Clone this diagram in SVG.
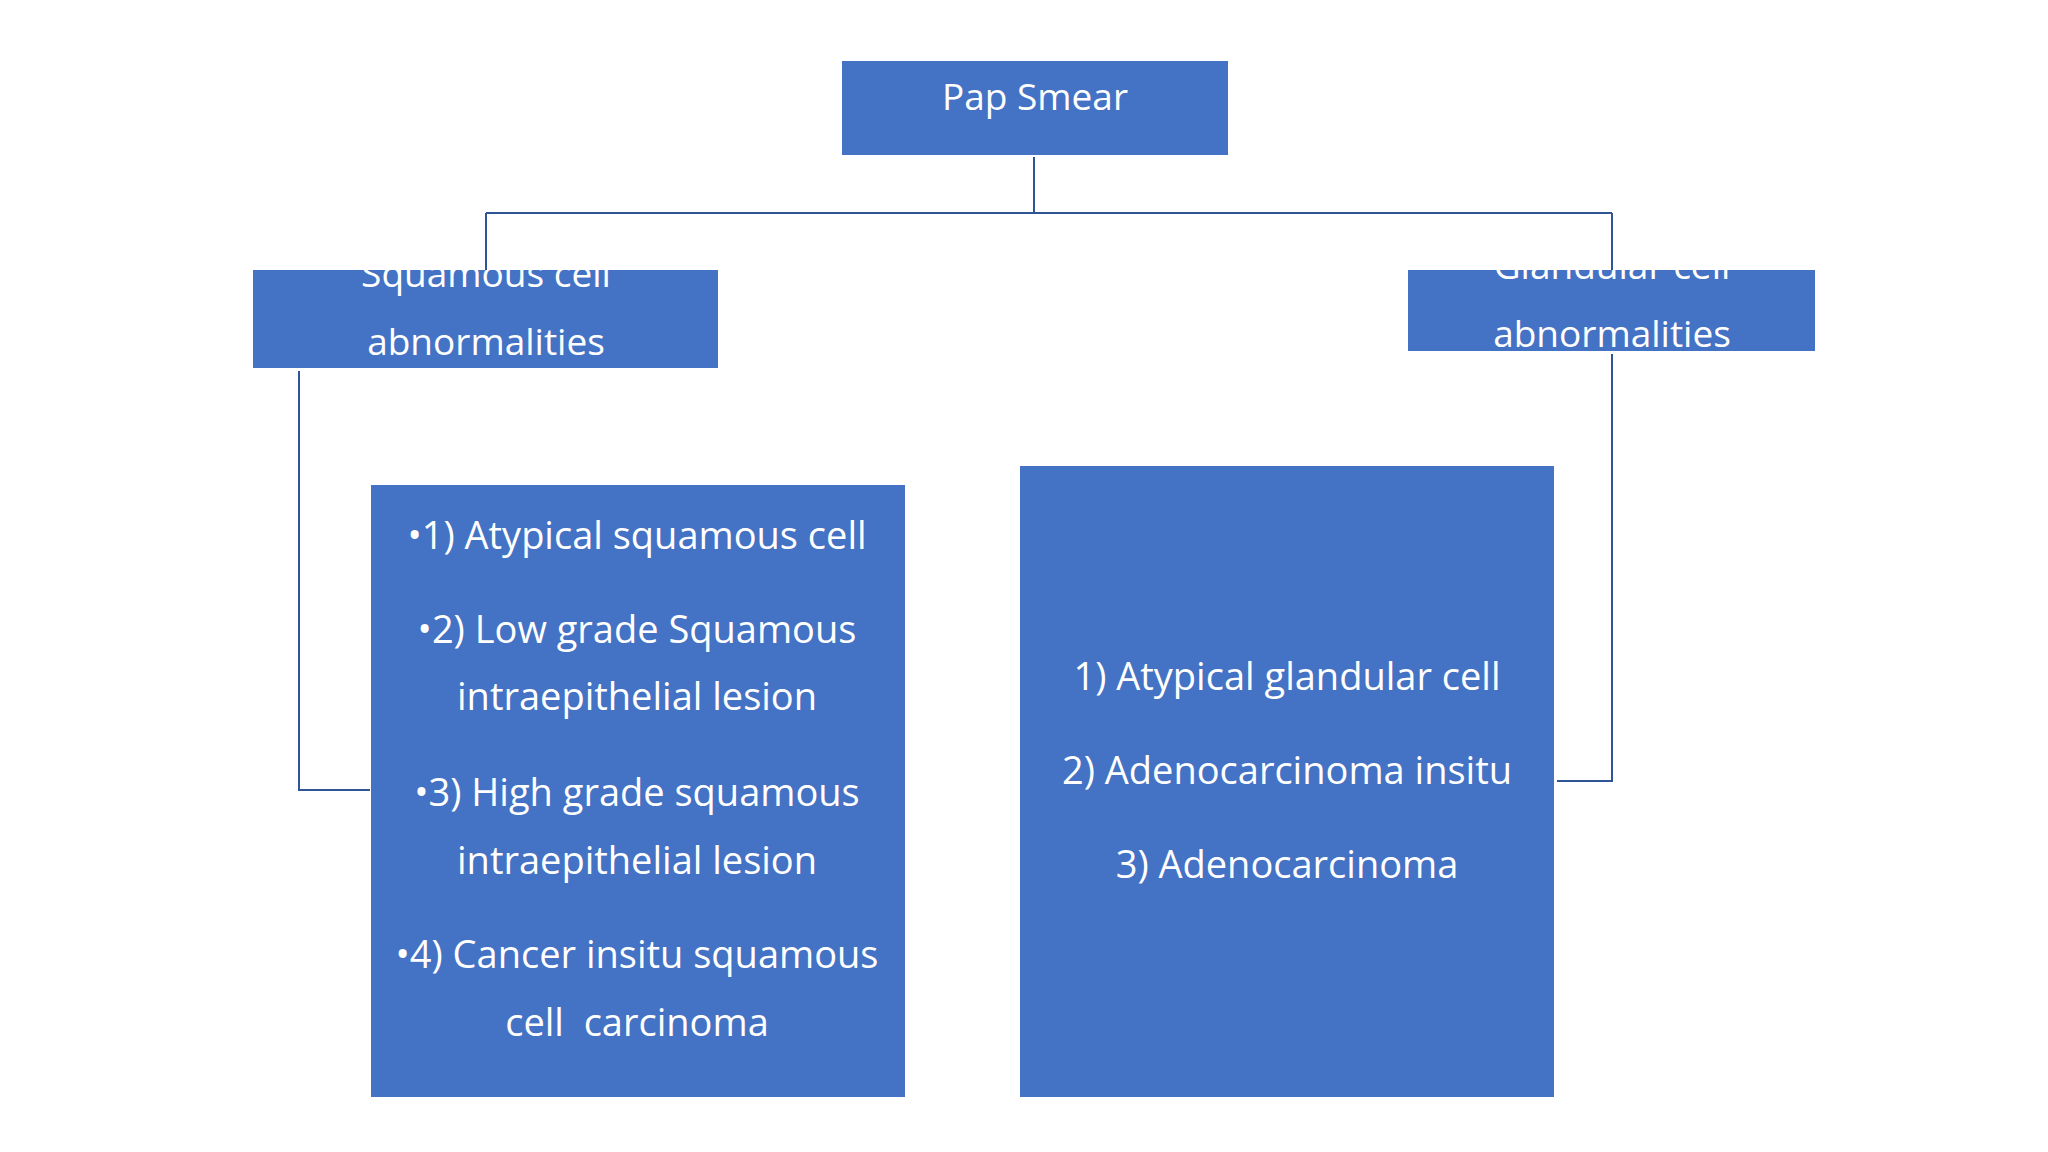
<svg xmlns="http://www.w3.org/2000/svg" width="2048" height="1152" viewBox="0 0 2048 1152">
<style>
.b{fill:#4472C4}
.t{fill:#fff;font-family:"Open Sans","Noto Sans",sans-serif;text-anchor:middle}
.c{fill:none;stroke:#2F5597;stroke-width:2}
</style>
<defs><clipPath id="cl"><rect x="253" y="270" width="465" height="98"/></clipPath>
<clipPath id="cr"><rect x="1408" y="270" width="407" height="81"/></clipPath></defs>
<rect width="2048" height="1152" fill="#fff"/>
<g id="connectors">
<path class="c" d="M1034,157V213M486,213H1612M486,213V270M1612,213V270"/>
<path class="c" d="M299,371V790H370"/>
<path class="c" d="M1612,354V781H1557"/>
</g>
<g id="pap"><rect class="b" x="842" y="61" width="386" height="94"/><text class="t" x="1035" y="110" font-size="37">Pap Smear</text></g>
<g id="squamous"><rect class="b" x="253" y="270" width="465" height="98"/>
<g clip-path="url(#cl)"><text class="t" x="486" y="287" font-size="37">Squamous cell</text></g>
<text class="t" x="486" y="355" font-size="37">abnormalities</text></g>
<g id="glandular"><rect class="b" x="1408" y="270" width="407" height="81"/>
<g clip-path="url(#cr)"><text class="t" x="1612" y="279" font-size="37">Glandular cell</text></g>
<text class="t" x="1612" y="347" font-size="37">abnormalities</text></g>
<g id="squamous-list"><rect class="b" x="371" y="485" width="534" height="612"/>
<g class="t" font-size="38">
<text x="637" y="549">•1) Atypical squamous cell</text>
<text x="637" y="643">•2) Low grade Squamous</text>
<text x="637" y="710">intraepithelial lesion</text>
<text x="637" y="806">•3) High grade squamous</text>
<text x="637" y="874">intraepithelial lesion</text>
<text x="637" y="968">•4) Cancer insitu squamous</text>
<text x="637" y="1036" xml:space="preserve">cell  carcinoma</text>
</g></g>
<g id="glandular-list"><rect class="b" x="1020" y="466" width="534" height="631"/>
<g class="t" font-size="38">
<text x="1287" y="690">1) Atypical glandular cell</text>
<text x="1287" y="784">2) Adenocarcinoma insitu</text>
<text x="1287" y="878">3) Adenocarcinoma</text>
</g></g>
</svg>
